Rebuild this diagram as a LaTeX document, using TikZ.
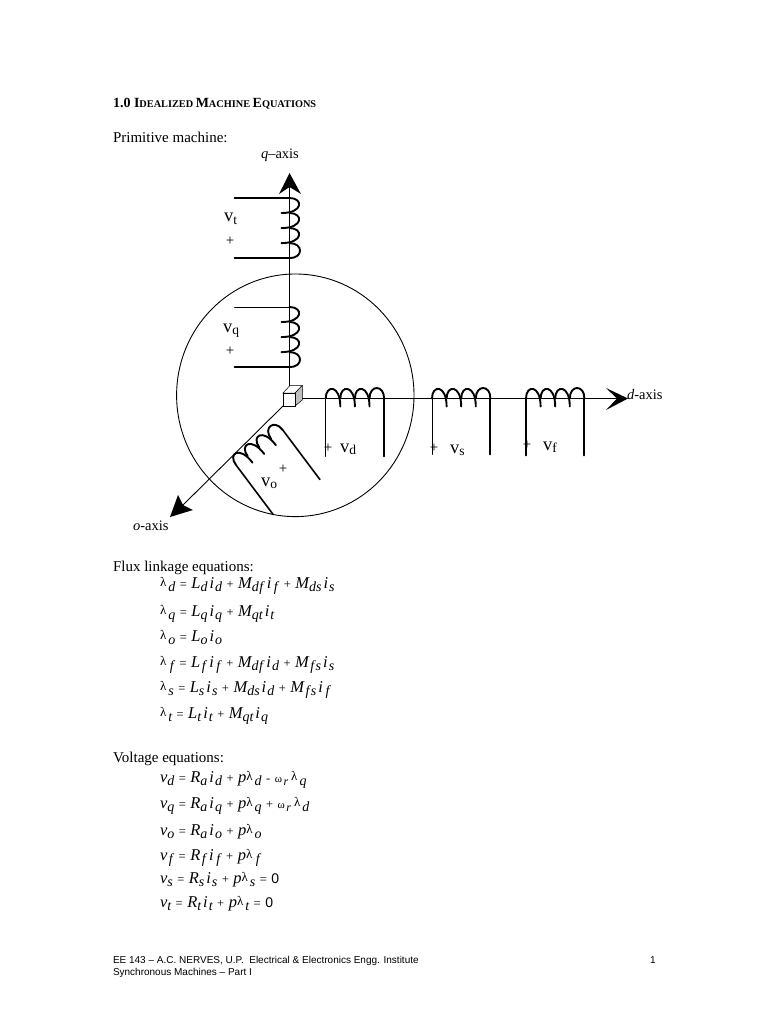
\documentclass[tikz,border=0pt]{standalone}
\usepackage{fontspec}
\setmainfont{Liberation Serif}
\newfontfamily\footfont{Liberation Sans}
\newcommand{\fs}[1]{\fontsize{#1}{#1}\selectfont}
% subscripts for the equations
\newcommand{\su}[1]{\raisebox{-3pt}{\fs{14}\itshape #1}}
\newcommand{\ff}{\kern1.5pt f\kern1.5pt}
\newcommand{\lam}[1]{{\upshape\fs{13}\raisebox{2pt}{λ}}\kern2pt\su{#1}}
\newcommand{\om}{{\upshape\fs{11}ω}\kern1.5pt\raisebox{-3pt}{\fs{12}\itshape r}}
\newcommand{\op}[1]{\kern4.5pt{\upshape\fs{12.5}#1}\kern4.5pt}
\newcommand{\ii}{\kern2pt i\kern1pt}
% upright winding labels
\newcommand{\wl}[2]{{\fs{18.5}v}\raisebox{-2.5pt}{\fs{13.5}#2}}
\newcommand{\hd}[1]{{\fs{14}#1}}
\newcommand{\hs}[1]{{\fs{10.3}#1}}
% coil: origin x,y ; u vector ; v vector (up-positive) ; lead a, lead b, widths a,b
\newcommand{\coil}[8]{%
\begin{scope}[shift={(#1,#2)},x={(#3)},y={(#4)},line cap=round]
 \draw[coilline] (0,0) .. controls (0,14) and (14.6,14) .. (14.6,-8);
 \draw[coilline] (14.6,0) .. controls (14.6,14) and (29.2,14) .. (29.2,-8);
 \draw[coilline] (29.2,0) .. controls (29.2,14) and (43.8,14) .. (43.8,-8);
 \draw[coilline] (43.8,0) .. controls (43.8,14) and (58.4,14) .. (58.4,0);
 \draw[line width=#7] (0,0) -- (0,-#5);
 \draw[line width=#8] (58.4,0) -- (58.4,-#6);
\end{scope}}
\tikzset{
 every node/.style={inner sep=0pt,outer sep=0pt,anchor=base west},
 coilline/.style={line width=1.9pt},
 axisline/.style={line width=.9pt},
 body/.style={font=\fs{15}},
 lbl/.style={font=\fs{14.5}},
 plus/.style={font=\fs{15},anchor=base},
 eqn/.style={font=\fs{16.5}\itshape},
 foot/.style={font=\footfont\fs{10}},
 tipfill/.style={fill=black,draw=none}
}
\begin{document}
\begin{tikzpicture}[x=1pt,y=-1pt]
\useasboundingbox (0,0) rectangle (768,1024);
\fill[white] (0,0) rectangle (768,1024);

\node (title) at (113,108) {\bfseries\hd{1.0 I}\hs{DEALIZED} \hd{M}\hs{ACHINE} \hd{E}\hs{QUATIONS}};
\node[body] (prim) at (113,143) {Primitive machine:};
\node[lbl] (qlab) at (261,159) {\itshape q\upshape –axis};
\node[lbl] (dlab) at (627,399) {\itshape d\upshape -axis};
\node[lbl] (olab) at (133,530) {\itshape o\upshape -axis};

% rotor circle
\draw[line width=.9pt] (295.3,395.3) ellipse [x radius=118.7,y radius=121.3];

% axes
\coordinate (O) at (289.5,396);
\coordinate (qtip) at (289.5,187);
\coordinate (dtip) at (617,398.5);
\coordinate (otip) at (183,505);
\draw[axisline] (O) -- (qtip);
\draw[axisline] (295,398.5) -- (dtip);
\draw[axisline] (283,406) -- (otip);
\fill[tipfill] (289.5,173) -- (301,194) -- (289.5,187) -- (279,194) -- cycle;
\fill[tipfill] (628,398.5) -- (606,410) -- (617,398.5) -- (606,388) -- cycle;
\fill[tipfill] (170,517) -- (178,495) -- (183,505) -- (193,510) -- cycle;

% coils
\coil{289.5}{198}{0pt,-1.03pt}{1pt,0pt}{55}{55}{1.9pt}{2pt}
\coil{289.5}{307}{0pt,-1.03pt}{1pt,0pt}{55}{55}{.9pt}{2pt}
\coil{325.7}{398.5}{1pt,0pt}{0pt,1pt}{58}{58}{.9pt}{1.9pt}
\coil{432}{398.5}{1pt,0pt}{0pt,1pt}{56}{56}{.9pt}{1.9pt}
\coil{526}{398.5}{1pt,0pt}{0pt,1pt}{57}{57}{1.9pt}{1.9pt}
\coil{236}{465}{.8pt,.6pt}{-.6pt,.8pt}{62}{62}{1.6pt}{1.6pt}

% cube
\draw[line width=.5pt,fill=white] (283,393) -- (290,385.5) -- (302.3,385.5) -- (295,393) -- cycle;
\draw[line width=.5pt,fill=black!25] (295,393) -- (302.3,385.5) -- (302.3,400) -- (295,406) -- cycle;
\draw[line width=.5pt,fill=white] (283,393) rectangle (295,406);

% winding labels
\node (vt) at (224,222) {\wl{v}{t}};
\node[plus] (pt) at (230,245) {+};
\node (vq) at (223,332) {\wl{v}{q}};
\node[plus] (pq) at (230,355) {+};
\node[plus] (pd) at (328,452) {+};
\node (vd) at (340,452) {\wl{v}{d}};
\node[plus] (ps) at (434,452) {+};
\node (vs) at (450,453) {\wl{v}{s}};
\node[plus] (pf) at (527,449) {+};
\node (vf) at (543,450) {\wl{v}{f}};
\node[plus] (po) at (283,473) {+};
\node (vo) at (261,486) {\wl{v}{o}};

% flux linkage
\node[body] (fl) at (113,571) {Flux linkage equations:};
\node[eqn] (f1) at (160,588) {\lam{d}\op{=}L\su{d}\ii\su{d}\op{+}M\su{d\kern-1pt\ff}\ii\su{\ff}\op{+}M\su{ds}\ii\su{s}};
\node[eqn] (f2) at (160,616) {\lam{q}\op{=}L\su{q}\ii\su{q}\op{+}M\su{qt}\ii\su{t}};
\node[eqn] (f3) at (160,641) {\lam{o}\op{=}L\su{o}\ii\su{o}};
\node[eqn] (f4) at (160,667) {\lam{\ff}\op{=}L\su{\ff}\ii\su{\ff}\op{+}M\su{d\kern-1pt\ff}\ii\su{d}\op{+}M\su{\ff s}\ii\su{s}};
\node[eqn] (f5) at (160,692) {\lam{s}\op{=}L\su{s}\ii\su{s}\op{+}M\su{ds}\ii\su{d}\op{+}M\su{\ff s}\ii\su{\ff}};
\node[eqn] (f6) at (160,718) {\lam{t}\op{=}L\su{t}\ii\su{t}\op{+}M\su{qt}\ii\su{q}};

% voltage
\node[body] (vl) at (113,762) {Voltage equations:};
\node[eqn] (v1) at (160,782) {v\su{d}\op{=}R\su{a}\ii\su{d}\op{+}p\lam{d}\op{-}\om\kern3pt\lam{q}};
\node[eqn] (v2) at (160,808) {v\su{q}\op{=}R\su{a}\ii\su{q}\op{+}p\lam{q}\op{+}\om\kern3pt\lam{d}};
\node[eqn] (v3) at (160,835) {v\su{o}\op{=}R\su{a}\ii\su{o}\op{+}p\lam{o}};
\node[eqn] (v4) at (160,860) {v\su{\ff}\op{=}R\su{\ff}\ii\su{\ff}\op{+}p\lam{\ff}};
\node[eqn] (v5) at (160,883) {v\su{s}\op{=}R\su{s}\ii\su{s}\op{+}p\lam{s}\op{=}{\upshape\footfont\fs{14}0}};
\node[eqn] (v6) at (160,907) {v\su{t}\op{=}R\su{t}\ii\su{t}\op{+}p\lam{t}\op{=}{\upshape\footfont\fs{14}0}};

% footer
\node[foot] (ft1) at (113,963) {EE 143 – A.C. NERVES, U.P.\ \ Electrical \& Electronics Engg. Institute};
\node[foot] (ft2) at (113,975) {Synchronous Machines – Part I};
\node[foot] (pg) at (650,963) {1};
\end{tikzpicture}
\end{document}
